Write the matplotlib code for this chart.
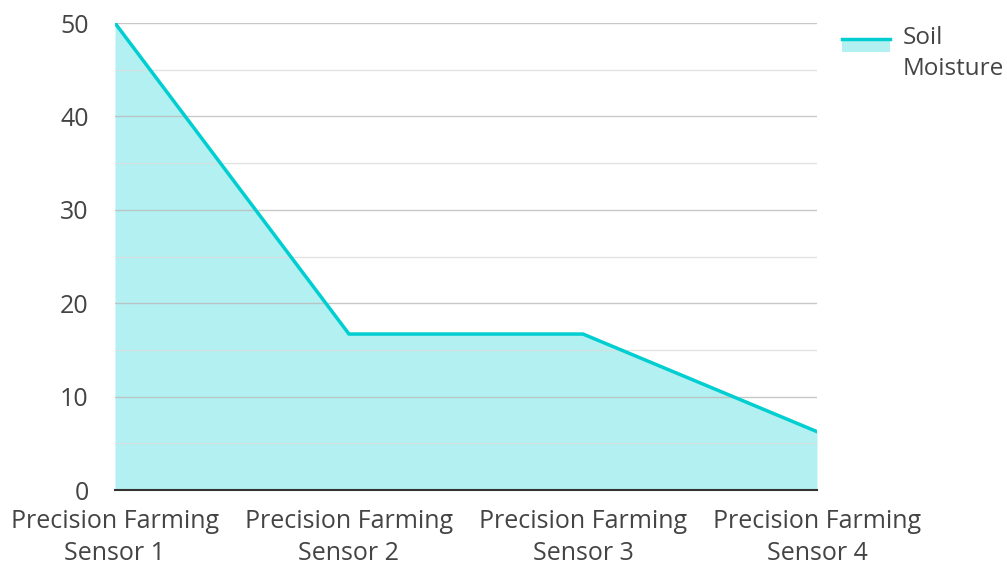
import matplotlib
matplotlib.use('Agg')
import matplotlib.pyplot as plt
from matplotlib.patches import Rectangle
from matplotlib.lines import Line2D
from matplotlib.legend_handler import HandlerBase

categories = ['Precision Farming\nSensor 1', 'Precision Farming\nSensor 2',
              'Precision Farming\nSensor 3', 'Precision Farming\nSensor 4']
soil_moisture = [50, 16.7, 16.7, 6.25]
series_name = 'Soil\nMoisture'

line_color = '#00CED1'
text_color = '#444444'

plt.rcParams['font.family'] = ['Open Sans', 'DejaVu Sans']


class AreaHandler(HandlerBase):
    def create_artists(self, legend, orig_handle, xdescent, ydescent,
                       width, height, fontsize, trans):
        y0 = -ydescent + height * 0.6
        rect = Rectangle((-xdescent, y0), width, height * 0.8,
                         facecolor=line_color, alpha=0.3, transform=trans, lw=0)
        top = y0 + height * 0.8
        ln = Line2D([-xdescent, -xdescent + width], [top, top],
                    color=line_color, lw=2.5, transform=trans)
        return [rect, ln]


fig = plt.figure(figsize=(10.07, 5.62), dpi=100)
ax = fig.add_axes([0.1142, 0.1281, 0.6971, 0.8309])

x = list(range(len(categories)))
ax.fill_between(x, soil_moisture, 0, color=line_color, alpha=0.3, lw=0, zorder=2)
ax.plot(x, soil_moisture, color=line_color, lw=2.5, zorder=3)

ax.set_xlim(0, len(categories) - 1)
ax.set_ylim(0, 50)
ax.set_yticks(range(0, 51, 10))
ax.set_xticks(x)
ax.set_xticklabels(categories, linespacing=1.35)

# gridlines drawn over the fill
for v in range(10, 51, 10):
    ax.axhline(v, color='#bbbbbb', lw=1, alpha=0.8, zorder=2.5)
for v in range(5, 50, 10):
    ax.axhline(v, color='#dddddd', lw=1, alpha=0.8, zorder=2.5)

for s in ['top', 'right', 'left']:
    ax.spines[s].set_visible(False)
ax.spines['bottom'].set_color('#333333')
ax.spines['bottom'].set_linewidth(1.5)
ax.spines['bottom'].set_zorder(4)

ax.tick_params(axis='y', length=0, labelsize=18, labelcolor=text_color, pad=19)
ax.tick_params(axis='x', length=0, labelsize=18, labelcolor=text_color, pad=14)

handle = Rectangle((0, 0), 1, 1)
leg = ax.legend([handle], [series_name], handler_map={Rectangle: AreaHandler()},
                loc='upper left', bbox_to_anchor=(1.004, 1.04), frameon=False,
                fontsize=17.5, labelcolor=text_color, handlelength=2.0,
                handletextpad=0.5)
for t in leg.get_texts():
    t.set_linespacing(1.35)

fig.savefig('out.png', dpi=100)
